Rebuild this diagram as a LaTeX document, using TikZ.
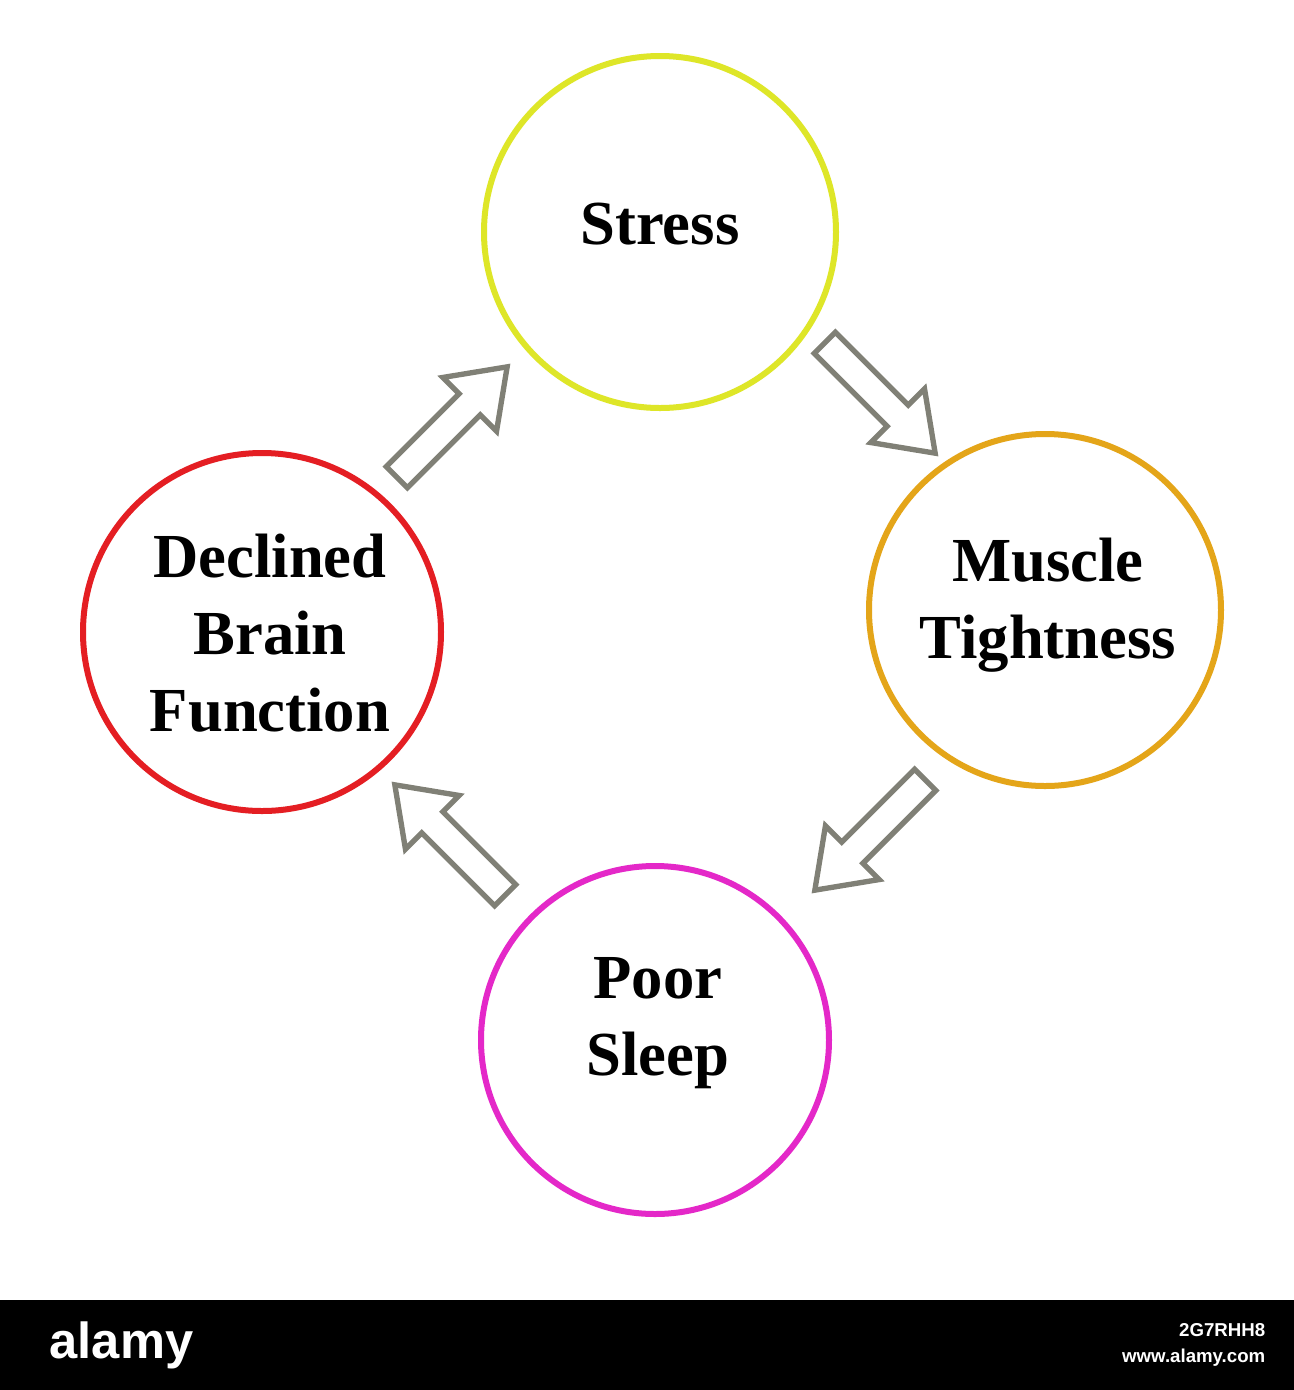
\documentclass[tikz,border=0pt]{standalone}
\usepackage{fontspec}
\setmainfont{Liberation Serif}
\newfontfamily\sansf{Liberation Sans}
\definecolor{cy}{RGB}{222,230,40}
\definecolor{co}{RGB}{228,165,25}
\definecolor{cm}{RGB}{228,40,200}
\definecolor{cr}{RGB}{228,30,35}
\definecolor{ag}{RGB}{128,128,118}
\begin{document}
\begin{tikzpicture}[x=0.75pt,y=-0.75pt,
  lbl/.style={font=\fontsize{47}{58}\selectfont\bfseries,align=center},
  blk/.style={draw=ag,line width=4pt,fill=white,line join=miter}]
\useasboundingbox (0,0) rectangle (1294,1390);
\fill[white] (0,0) rectangle (1294,1390);
\node[circle,draw=cy,line width=4.5pt,minimum size=352*0.75pt] (s) at (660,232) {};
\node[circle,draw=co,line width=4.5pt,minimum size=352*0.75pt] (m) at (1045,610) {};
\node[circle,draw=cm,line width=4.5pt,minimum size=348*0.75pt] (p) at (655,1040) {};
\node[circle,draw=cr,line width=4.5pt,minimum size=358*0.75pt] (d) at (262,632) {};
\node[lbl] at (660,224) {Stress};
\node[lbl] at (1048,605) {Muscle\\Tightness};
\node[lbl] at (658,1023) {Poor\\Sleep};
\node[lbl] at (270,633) {Declined\\Brain\\Function};
\foreach \cx/\cy/\ang in {452/422/45, 880/398/-45, 870/835/225, 450/840/135}{
  \begin{scope}[shift={(\cx,\cy)},rotate=\ang]
    \draw[blk] (-78,-15) -- (25,-15) -- (25,-38) -- (78,0) -- (25,38) -- (25,15) -- (-78,15) -- cycle;
  \end{scope}
}
\fill[black] (0,1300) rectangle (1294,1390);
\node[white,font=\sansf\bfseries\fontsize{38}{40}\selectfont,anchor=west] (al) at (45,1345) {alamy};
\node[white,font=\sansf\bfseries\fontsize{14}{16}\selectfont,anchor=east] (id) at (1270,1330) {2G7RHH8};
\node[white,font=\sansf\bfseries\fontsize{14}{16}\selectfont,anchor=east] (url) at (1270,1358) {www.alamy.com};
\end{tikzpicture}
\end{document}
